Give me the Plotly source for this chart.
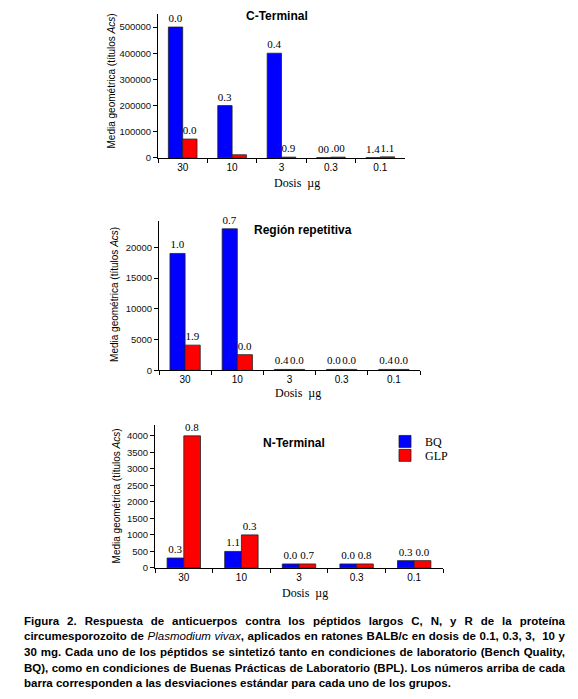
import plotly.graph_objects as go

# page is offset by the default 8px body margin, so the figure is 8px smaller
OFF = 8
W, H = 578 - OFF, 699 - OFF

doses = ["30", "10", "3", "0.3", "0.1"]

# C-Terminal
c_bq = [500000, 200000, 400000, 800, 800]
c_glp = [72000, 12000, 3000, 3000, 4000]
c_bq_sd = ["0.0", "0.3", "0.4", "00", "1.4"]
c_glp_sd = ["0.0", "", "0.9", ".00", "1.1"]

# Región repetitiva
r_bq = [19000, 23000, 150, 150, 150]
r_glp = [4100, 2550, 150, 150, 150]
r_bq_sd = ["1.0", "0.7", "0.4", "0.0", "0.4"]
r_glp_sd = ["1.9", "0.0", "0.0", "0.0", "0.0"]

# N-Terminal
n_bq = [300, 500, 120, 120, 220]
n_glp = [4000, 1000, 120, 120, 220]
n_bq_sd = ["0.3", "1.1", "0.0", "0.0", "0.3"]
n_glp_sd = ["0.8", "0.3", "0.7", "0.8", "0.0"]

series_names = ["BQ", "GLP"]
colors = ["#0000FF", "#FF0000"]

panel_titles = ["C-Terminal", "Región repetitiva", "N-Terminal"]
y_title = "Media geométrica (títulos <i>Acs</i>)"
x_title = "Dosis  µg"

caption_lines = [
    "<b>Figura 2. Respuesta de anticuerpos contra los péptidos largos C, N, y R de la proteína</b>",
    "<b>circumesporozoito de </b><i>Plasmodium vivax</i><b>, aplicados en ratones BALB/c en dosis de 0.1, 0.3, 3,  10 y</b>",
    "<b>30 mg. Cada uno de los péptidos se sintetizó tanto en condiciones de laboratorio (Bench Quality,</b>",
    "<b>BQ), como en condiciones de Buenas Prácticas de Laboratorio (BPL). Los números arriba de cada</b>",
    "<b>barra corresponden a las desviaciones estándar para cada uno de los grupos.</b>",
]
justified_prefixes = ["Figura 2.", "circumespo", "30 mg. Cad", "BQ), como "]

SANS = "Arial, Liberation Sans, sans-serif"
SERIF = "Times New Roman, Liberation Serif, serif"

def px(x):
    return (x - OFF) / W

def py(y):
    return 1 - (y - OFF) / H

# panel geometry (page pixels)
panels = [
    dict(x0=158, x1=405, yb=159, yt=14, ymax=550000, dtick=100000,
         bq=c_bq, glp=c_glp, bq_t=c_bq_sd, glp_t=c_glp_sd),
    dict(x0=159, x1=420, yb=373, yt=223, ymax=24200, dtick=5000,
         bq=r_bq, glp=r_glp, bq_t=r_bq_sd, glp_t=r_glp_sd),
    dict(x0=155, x1=443, yb=572, yt=428, ymax=4330, dtick=500,
         bq=n_bq, glp=n_glp, bq_t=n_bq_sd, glp_t=n_glp_sd),
]

fig = go.Figure()
legend_style = dict(xanchor="left", yanchor="top",
                    font=dict(family=SERIF, size=12, color="black"),
                    bgcolor="rgba(0,0,0,0)", itemwidth=30)
layout = dict(
    width=W, height=H,
    margin=dict(l=0, r=0, t=0, b=0),
    paper_bgcolor="white", plot_bgcolor="white",
    barmode="group", bargap=0.42, bargroupgap=0.0,
    showlegend=True,
    legend=dict(x=px(385), y=py(430), **legend_style),
    legend2=dict(x=px(385), y=py(444), **legend_style),
)

annotations = []
for i, p in enumerate(panels):
    k = "" if i == 0 else str(i + 1)
    xa, ya = "x" + k, "y" + k
    for j, (vals, txt) in enumerate([(p["bq"], p["bq_t"]), (p["glp"], p["glp_t"])]):
        fig.add_trace(go.Bar(
            x=doses, y=vals, name=series_names[j],
            marker=dict(color=colors[j], line=dict(color="#222222", width=0.8)),
            text=txt, textposition="outside", constraintext="none",
            textfont=dict(family=SERIF, size=11, color="black"),
            cliponaxis=False, xaxis=xa, yaxis=ya,
            showlegend=(i == 2), legend=("legend" if j == 0 else "legend2"),
            hoverinfo="skip",
        ))
    layout["xaxis" + k] = dict(
        domain=[px(p["x0"]), px(p["x1"])], anchor=ya,
        type="category", showline=True, linecolor="black", linewidth=1,
        ticks="outside", tickson="boundaries", ticklen=4, tickcolor="black",
        tickfont=dict(family=SANS, size=10, color="black"),
        showgrid=False, zeroline=False, fixedrange=True,
    )
    layout["yaxis" + k] = dict(
        domain=[py(p["yb"]), py(p["yt"])], anchor=xa,
        range=[0, p["ymax"]], dtick=p["dtick"], tick0=0, tickformat="d",
        showline=True, linecolor="black", linewidth=1,
        ticks="outside", ticklen=4, tickcolor="black",
        tickfont=dict(family=SANS, size=9.5, color="#111111"),
        showgrid=False, zeroline=False, fixedrange=True,
    )

# panel titles
title_pos = [(277, 16), (303, 232), (294, 446)]
for t, (x, y) in zip(panel_titles, title_pos):
    annotations.append(dict(text="<b>" + t + "</b>", x=px(x), y=py(y), xref="paper", yref="paper",
                            showarrow=False, xanchor="center", yanchor="middle",
                            font=dict(family=SANS, size=12, color="black")))

# y titles
ytitle_pos = [(111, 82), (115, 297), (116, 500)]
for (x, y) in ytitle_pos:
    annotations.append(dict(text=y_title, x=px(x), y=py(y), xref="paper", yref="paper",
                            showarrow=False, textangle=-90, xanchor="center", yanchor="middle",
                            font=dict(family=SANS, size=10, color="black")))

# x titles
xtitle_pos = [(297, 184), (298, 396), (305, 597)]
for (x, y) in xtitle_pos:
    annotations.append(dict(text=x_title, x=px(x), y=py(y), xref="paper", yref="paper",
                            showarrow=False, xanchor="center", yanchor="middle",
                            font=dict(family=SERIF, size=12, color="black")))

# caption
for n, line in enumerate(caption_lines):
    annotations.append(dict(text=line, x=px(22), y=py(625 + 15.8 * n), xref="paper", yref="paper",
                            showarrow=False, xanchor="left", yanchor="middle", align="left",
                            font=dict(family=SANS, size=11.5, color="black")))

layout["annotations"] = annotations
fig.update_layout(**layout)

# justify the caption lines (all but the last) to the full text width
post_js = """
var gd = document.getElementById('{plot_id}');
var prefixes = %s;
var target = 541;
gd.querySelectorAll('text.annotation-text').forEach(function(t){
  var s = t.textContent;
  var ok = prefixes.some(function(p){ return s.indexOf(p) === 0; });
  if (!ok) return;
  t.style.wordSpacing = '0px';
  var w = t.getComputedTextLength();
  var n = (s.match(/ /g) || []).length;
  if (n > 0 && w < target) t.style.wordSpacing = ((target - w) / n) + 'px';
});
""" % (str(justified_prefixes).replace("'", '"'))

fig.write_html("out.html", post_script=post_js)
